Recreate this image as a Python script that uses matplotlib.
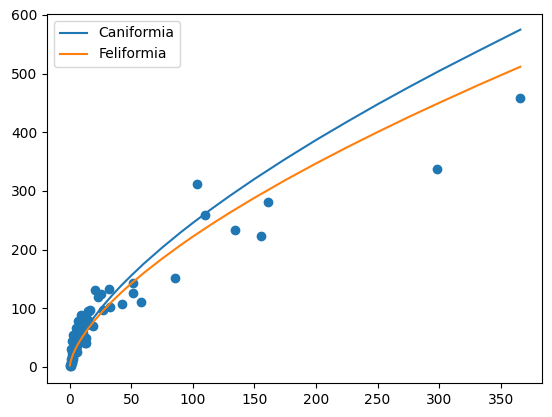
import matplotlib
matplotlib.use("Agg")
import matplotlib.pyplot as plt

# scatter data
scatter_x = [365.9, 298.6, 161.2, 155.3, 134.0, 109.6, 103.3, 85.4, 51.5, 51.5,
             57.7, 42.3, 32.0, 20.3, 23.0, 25.5, 32.5, 27.0, 16.3, 15.0, 19.0, 12.2,
             0.3, 0.5, 0.8, 1.0, 1.0, 1.5, 1.5, 2.0, 2.0, 2.5, 3.0, 3.0, 4.0, 4.0,
             5.0, 5.0, 6.0, 6.0, 7.0, 7.0, 8.0, 8.0, 9.0, 9.0, 10.0, 11.0, 11.0,
             12.0, 12.0, 13.0, 13.0, 14.0, 15.0, 16.0, 3.0, 2.0, 6.0, 10.0,
             1.0, 2.0, 3.0, 5.0, 7.0, 9.0, 12.5]
scatter_y = [458.5, 337.5, 280.6, 223.8, 234.0, 259.5, 312.4, 152.0, 143.5, 126.0,
             110.8, 107.5, 133.0, 130.6, 119.0, 124.0, 102.0, 97.7, 97.7, 96.0, 70.4, 89.0,
             1.0, 4.0, 2.0, 8.0, 14.0, 6.0, 20.0, 11.0, 25.0, 17.0, 30.0, 22.0, 35.0, 27.0,
             40.0, 31.0, 46.0, 36.0, 52.0, 42.0, 58.0, 47.0, 64.0, 50.0, 70.0, 75.0, 58.0,
             88.0, 41.0, 40.0, 50.0, 72.0, 80.0, 95.0, 13.0, 8.0, 25.0, 62.0,
             30.0, 45.0, 55.0, 66.0, 78.0, 88.0, 45.0]

# fitted curves
curve_x = [0.1, 0.5, 1, 2, 3, 5, 7, 10, 15, 20, 27, 35, 42, 50, 60, 75, 90, 100,
           115, 130, 150, 175, 200, 225, 250, 275, 300, 333, 366]
caniformia_y = [2.7, 7.6, 12.0, 18.9, 24.7, 34.5, 43.0, 54.4, 70.9, 85.6, 104.2,
                123.5, 139.2, 155.9, 175.8, 203.4, 229.3, 245.6, 269.2, 291.7,
                320.4, 354.4, 386.8, 417.7, 447.7, 476.5, 504.5, 540.0, 575.0]
feliformia_y = [2.6, 7.4, 11.5, 18.0, 23.3, 32.4, 40.2, 50.5, 65.6, 78.9, 95.7,
                113.1, 127.2, 142.3, 160.0, 184.6, 207.6, 222.2, 243.1, 263.0,
                288.3, 318.4, 346.9, 374.2, 400.4, 425.8, 450.2, 481.6, 511.8]

fig = plt.figure(figsize=(5.52, 4.17), dpi=100)
ax = fig.add_axes([47 / 552, (417 - 383) / 417, 495 / 552, 369 / 417])

ax.scatter(scatter_x, scatter_y, color="#1f77b4")
ax.plot(curve_x, caniformia_y, color="#1f77b4", label="Caniformia")
ax.plot(curve_x, feliformia_y, color="#ff7f0e", label="Feliformia")

ax.set_xlim(-18.5, 383.6)
ax.set_ylim(-27.4, 601.7)
ax.set_xticks([0, 50, 100, 150, 200, 250, 300, 350])
ax.set_yticks([0, 100, 200, 300, 400, 500, 600])
ax.legend(loc="upper left")

fig.savefig("out.png", dpi=100)
